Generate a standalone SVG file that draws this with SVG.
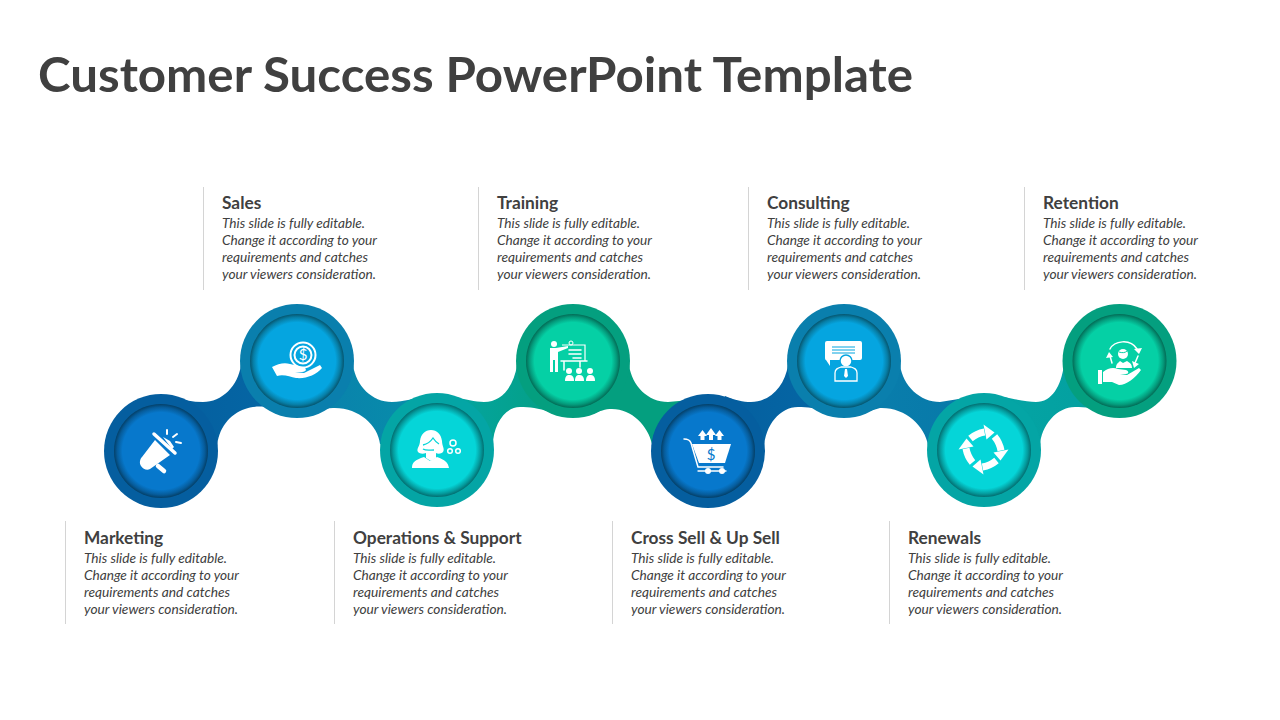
<svg xmlns="http://www.w3.org/2000/svg" width="1280" height="720" viewBox="0 0 1280 720">
<style>
text{font-family:"Lato","Noto Sans","Liberation Sans",sans-serif}
.title{font-size:48px;font-weight:700;fill:#404040}
.h{font-size:17.3px;font-weight:700;fill:#404040}
.b{font-size:13.3px;font-style:italic;fill:#404040}
.rule{stroke:#d4d4d4;stroke-width:1;fill:none}
.w{fill:#fff}
.o{fill:none;stroke:#fff;stroke-width:2}
.t{fill:none;stroke:#fff;stroke-linecap:round;stroke-linejoin:round}
.d{font-size:15px;font-weight:400;text-anchor:middle}
.blue{fill:#055e9f}.sky{fill:#0a7fad}.teal{fill:#04a5a5}.green{fill:#049f7f}
</style>
<defs>
<radialGradient id="gBlue"><stop offset="0" stop-color="#0778cc"/><stop offset=".82" stop-color="#0778cc"/><stop offset=".93" stop-color="#065c9b"/><stop offset="1" stop-color="#044068"/></radialGradient>
<radialGradient id="gSky"><stop offset="0" stop-color="#05a5e0"/><stop offset=".82" stop-color="#05a5e0"/><stop offset=".93" stop-color="#077ea6"/><stop offset="1" stop-color="#06566f"/></radialGradient>
<radialGradient id="gTeal"><stop offset="0" stop-color="#05d5d8"/><stop offset=".82" stop-color="#05d5d8"/><stop offset=".93" stop-color="#049c9e"/><stop offset="1" stop-color="#036e70"/></radialGradient>
<radialGradient id="gGreen"><stop offset="0" stop-color="#05d0a5"/><stop offset=".82" stop-color="#05d0a5"/><stop offset=".93" stop-color="#049a7b"/><stop offset="1" stop-color="#036c56"/></radialGradient>
<linearGradient id="c1" gradientUnits="userSpaceOnUse" x1="161" y1="0" x2="297" y2="0"><stop offset="0" stop-color="#055e9f"/><stop offset="1" stop-color="#0568a5"/></linearGradient>
<linearGradient id="c2" gradientUnits="userSpaceOnUse" x1="297" y1="0" x2="437" y2="0"><stop offset="0" stop-color="#0a7fad"/><stop offset="1" stop-color="#078fa9"/></linearGradient>
<linearGradient id="c3" gradientUnits="userSpaceOnUse" x1="437" y1="0" x2="573" y2="0"><stop offset="0" stop-color="#04a5a5"/><stop offset="1" stop-color="#049f7f"/></linearGradient>
<linearGradient id="c5" gradientUnits="userSpaceOnUse" x1="708" y1="0" x2="844" y2="0"><stop offset="0" stop-color="#055e9f"/><stop offset="1" stop-color="#0568a5"/></linearGradient>
<linearGradient id="c6" gradientUnits="userSpaceOnUse" x1="844" y1="0" x2="984" y2="0"><stop offset="0" stop-color="#0a7fad"/><stop offset="1" stop-color="#0778a8"/></linearGradient>
<linearGradient id="c7" gradientUnits="userSpaceOnUse" x1="984" y1="0" x2="1119" y2="0"><stop offset="0" stop-color="#04a5a5"/><stop offset="1" stop-color="#049f9f"/></linearGradient>
<g id="rarrow"><path d="M-13 -11Q-7 -16 1 -17.500" fill="none" stroke="#fff" stroke-width="7"/><path d="M0 -25L11 -17L3 -10Z" class="w"/></g>
</defs>
<text class="title" x="38" y="92" textLength="875" lengthAdjust="spacingAndGlyphs">Customer Success PowerPoint Template</text>
<g id="connectors">
<path fill="url(#c1)" d="M170 396C182 400 193 402 203 402C222 402 238 386 241 365L297 361L265 407C258 406 250 407 245 409C230 414 218 428 217 448L161 451Z"/>
<path fill="url(#c2)" d="M353 365C356 386 372 402 392 402C404 402 414 398 430 395L437 450L380 444C378 425 358 407 333 408C328 408 323 410 318 412L297 361Z"/>
<path fill="url(#c3)" d="M455 397C465 399 475 402 484 402C502 402 514 386 517 365L573 361L550 412C538 408 530 407 520 407C505 407 493 425 493 445L437 450Z"/>
<path fill="#049f7f" d="M629 365C632 386 648 402 668 402L690 400L708 451L652 444C648 426 632 409 612 409C605 409 600 411 592 414L573 361Z"/>
<path fill="url(#c5)" d="M725 396C735 400 743 402 751 402C770 402 785 386 788 365L844 361L812 408C807 407 803 407 798 407C780 407 765 425 764 448L708 451Z"/>
<path fill="url(#c6)" d="M900 365C903 386 920 402 940 402L965 398L984 450L928 445C925 426 905 407 880 408L860 414L844 361Z"/>
<path fill="url(#c7)" d="M1004 397C1018 400 1028 402 1036 402C1052 402 1061 386 1064 365L1119 361L1090 408C1085 407 1080 407 1075 407C1057 407 1041 425 1040 446L984 450Z"/>
</g>
<g id="marketing">
<circle class="blue" cx="161" cy="451" r="57"/><circle fill="url(#gBlue)" cx="161" cy="451" r="47"/>
<path class="w" d="M155 440L170 455L150 469C147 471 143 469 141 466C139 463 140 459 142 457Z"/>
<path class="t" stroke-width="3.500" d="M154 434L175 453"/>
<path class="w" d="M163 437L170 441L174 447L172 449Z"/>
<path class="t" stroke-width="4.500" d="M158 466L164 471"/>
<path class="t" stroke-width="2" d="M167 430V434M177 434L173 437M181 443L176 442"/>
<text class="h" x="84" y="544">Marketing</text>
<text class="b" x="84" y="563" textLength="143" lengthAdjust="spacingAndGlyphs">This slide is fully  editable.</text>
<text class="b" x="84" y="580" textLength="155" lengthAdjust="spacingAndGlyphs">Change it according to your</text>
<text class="b" x="84" y="597" textLength="146" lengthAdjust="spacingAndGlyphs">requirements and catches</text>
<text class="b" x="84" y="614" textLength="154" lengthAdjust="spacingAndGlyphs">your viewers consideration.</text>
<path class="rule" d="M65.500 521V624"/>
</g>
<g id="sales">
<circle class="sky" cx="297" cy="361" r="57"/><circle fill="url(#gSky)" cx="297" cy="361" r="47"/>
<circle class="o" cx="303" cy="355" r="12.500"/><circle class="o" cx="303" cy="355" r="8.500"/>
<text class="d w" x="303" y="360">$</text>
<path class="w" d="M272 367C278 364 284 362 290 364L303 367C307 368 307 372 302 372L295 372L304 373L320 365L322 368C316 375 306 379 296 378C290 377 284 374 277 376Z"/>
<text class="h" x="222" y="209">Sales</text>
<text class="b" x="222" y="228" textLength="143" lengthAdjust="spacingAndGlyphs">This slide is fully  editable.</text>
<text class="b" x="222" y="245" textLength="155" lengthAdjust="spacingAndGlyphs">Change it according to your</text>
<text class="b" x="222" y="262" textLength="146" lengthAdjust="spacingAndGlyphs">requirements and catches</text>
<text class="b" x="222" y="279" textLength="154" lengthAdjust="spacingAndGlyphs">your viewers consideration.</text>
<path class="rule" d="M203.500 187V290"/>
</g>
<g id="operations">
<circle class="teal" cx="437" cy="450" r="57"/><circle fill="url(#gTeal)" cx="437" cy="450" r="47"/>
<path class="w" d="M418 452C416 449 420 446 420 441C421 434 425 430 431 430C437 430 441 434 442 441C442 446 445 449 443 452C441 454 438 454 436 453L426 453C423 454 420 454 418 452Z"/>
<path class="w" d="M412 468C412 462 415 460 424 457L430 461L437 457C445 460 448 462 449 468Z"/>
<path fill="none" stroke="#05d5d8" stroke-width="1.300" d="M423 445C428 444 431 441 433 438C435 441 437 443 439 444M423 449C426 451 430 450 434 450"/>
<path class="w" d="M426 453H436V458L431 461L426 458Z"/>
<g fill="none" stroke="#fff" stroke-width="1.500"><circle cx="453" cy="443" r="3"/><circle cx="450" cy="451" r="2.300"/><circle cx="458" cy="451" r="2.300"/></g>
<text class="h" x="353" y="544">Operations &amp; Support</text>
<text class="b" x="353" y="563" textLength="143" lengthAdjust="spacingAndGlyphs">This slide is fully  editable.</text>
<text class="b" x="353" y="580" textLength="155" lengthAdjust="spacingAndGlyphs">Change it according to your</text>
<text class="b" x="353" y="597" textLength="146" lengthAdjust="spacingAndGlyphs">requirements and catches</text>
<text class="b" x="353" y="614" textLength="154" lengthAdjust="spacingAndGlyphs">your viewers consideration.</text>
<path class="rule" d="M334.500 521V624"/>
</g>
<g id="training">
<circle class="green" cx="573" cy="361" r="57"/><circle fill="url(#gGreen)" cx="573" cy="361" r="47"/>
<circle class="w" cx="554" cy="344" r="3"/>
<path class="w" d="M550 348H556L568 346V348L558 352V372H555V360H553V372H550Z"/>
<path fill="none" stroke="#fff" stroke-width="1.200" d="M562 345H585V361M566 345L571 345"/><circle cx="571" cy="343" r="2" fill="none" stroke="#fff"/>
<path class="t" stroke-width="1.500" d="M569 350H581M569 354H581M573 358H581M561 361H587M564 361V370M580 361V367"/>
<g class="w"><circle cx="569" cy="371" r="3"/><circle cx="579" cy="371" r="3"/><circle cx="590" cy="371" r="3"/>
<path d="M565 381C565 376 567 375 569 375C572 375 574 376 574 381Z"/><path d="M575 381C575 376 577 375 579 375C582 375 584 376 584 381Z"/><path d="M586 381C586 376 588 375 590 375C593 375 595 376 595 381Z"/></g>
<text class="h" x="497" y="209">Training</text>
<text class="b" x="497" y="228" textLength="143" lengthAdjust="spacingAndGlyphs">This slide is fully  editable.</text>
<text class="b" x="497" y="245" textLength="155" lengthAdjust="spacingAndGlyphs">Change it according to your</text>
<text class="b" x="497" y="262" textLength="146" lengthAdjust="spacingAndGlyphs">requirements and catches</text>
<text class="b" x="497" y="279" textLength="154" lengthAdjust="spacingAndGlyphs">your viewers consideration.</text>
<path class="rule" d="M478.500 187V290"/>
</g>
<g id="crosssell">
<circle class="blue" cx="708" cy="451" r="57"/><circle fill="url(#gBlue)" cx="708" cy="451" r="47"/>
<g class="w"><path d="M702.500 430L707 436H704.500V440H700.500V436H698Z"/><path d="M711 428L716 435H713V440H709V435H706Z"/><path d="M719.500 430L724 436H721.500V440H717.500V436H715Z"/></g>
<path class="w" d="M692 444H731L725 463H699Z"/>
<path class="t" stroke-width="1.500" d="M684 439C688 439 690 440 691 443L698 467H723"/>
<g class="w"><circle cx="708" cy="471" r="3"/><circle cx="722" cy="471" r="3"/></g>
<path class="t" stroke-width="1.300" d="M698 471H726"/>
<text class="d" fill="#0778cc" x="711" y="460">$</text>
<text class="h" x="631" y="544">Cross Sell &amp; Up Sell</text>
<text class="b" x="631" y="563" textLength="143" lengthAdjust="spacingAndGlyphs">This slide is fully  editable.</text>
<text class="b" x="631" y="580" textLength="155" lengthAdjust="spacingAndGlyphs">Change it according to your</text>
<text class="b" x="631" y="597" textLength="146" lengthAdjust="spacingAndGlyphs">requirements and catches</text>
<text class="b" x="631" y="614" textLength="154" lengthAdjust="spacingAndGlyphs">your viewers consideration.</text>
<path class="rule" d="M612.500 521V624"/>
</g>
<g id="consulting">
<circle class="sky" cx="844" cy="361" r="57"/><circle fill="url(#gSky)" cx="844" cy="361" r="47"/>
<path class="w" d="M827 341H860Q862 341 862 343V358Q862 360 860 360H830V366L826 360Q825 360 825 358V343Q825 341 827 341Z"/>
<path fill="none" stroke="#05a5e0" stroke-width="1.200" d="M832 347H855M832 350H855M832 353H855"/>
<circle cx="846" cy="361" r="6" class="w" stroke="#05a5e0" stroke-width="1.500"/>
<path fill="none" stroke="#fff" stroke-width="1.300" d="M835 381V373C835 369 838 368 841 367H851C854 368 857 369 857 373V381Z"/>
<path class="w" d="M845 369H847L848 376L846 378L844 376Z"/>
<text class="h" x="767" y="209">Consulting</text>
<text class="b" x="767" y="228" textLength="143" lengthAdjust="spacingAndGlyphs">This slide is fully  editable.</text>
<text class="b" x="767" y="245" textLength="155" lengthAdjust="spacingAndGlyphs">Change it according to your</text>
<text class="b" x="767" y="262" textLength="146" lengthAdjust="spacingAndGlyphs">requirements and catches</text>
<text class="b" x="767" y="279" textLength="154" lengthAdjust="spacingAndGlyphs">your viewers consideration.</text>
<path class="rule" d="M748.500 187V290"/>
</g>
<g id="renewals">
<circle class="teal" cx="984" cy="450" r="57"/><circle fill="url(#gTeal)" cx="984" cy="450" r="47"/>
<g transform="translate(983.500 449.500)"><use href="#rarrow"/><use href="#rarrow" transform="rotate(90)"/><use href="#rarrow" transform="rotate(180)"/><use href="#rarrow" transform="rotate(270)"/></g>
<text class="h" x="908" y="544">Renewals</text>
<text class="b" x="908" y="563" textLength="143" lengthAdjust="spacingAndGlyphs">This slide is fully  editable.</text>
<text class="b" x="908" y="580" textLength="155" lengthAdjust="spacingAndGlyphs">Change it according to your</text>
<text class="b" x="908" y="597" textLength="146" lengthAdjust="spacingAndGlyphs">requirements and catches</text>
<text class="b" x="908" y="614" textLength="154" lengthAdjust="spacingAndGlyphs">your viewers consideration.</text>
<path class="rule" d="M889.500 521V624"/>
</g>
<g id="retention">
<circle class="green" cx="1119.500" cy="361" r="57"/><circle fill="url(#gGreen)" cx="1119.500" cy="361" r="47"/>
<circle cx="1123" cy="354" r="5" class="w"/>
<path fill="none" stroke="#05d0a5" d="M1119 352C1122 353 1125 353 1127 351"/>
<path class="w" d="M1116 368C1116 364 1118 363 1120 361L1123 363L1127 361C1130 363 1132 364 1132 368Z"/>
<path class="w" d="M1098 370H1102V384H1098ZM1103 372C1108 368 1113 367 1118 369L1126 370C1129 371 1129 374 1126 374H1120L1127 375L1139 368L1141 370C1135 378 1127 385 1119 385L1112 382L1103 382Z"/>
<path class="t" stroke-width="1.500" d="M1110 349C1114 341 1130 338 1137 349M1112 363L1110 356M1135 363L1138 356"/>
<path class="w" d="M1134 349L1142 348L1139 354ZM1106 358L1113 357L1109 352ZM1132 361L1139 364L1134 368Z"/>
<text class="h" x="1043" y="209">Retention</text>
<text class="b" x="1043" y="228" textLength="143" lengthAdjust="spacingAndGlyphs">This slide is fully  editable.</text>
<text class="b" x="1043" y="245" textLength="155" lengthAdjust="spacingAndGlyphs">Change it according to your</text>
<text class="b" x="1043" y="262" textLength="146" lengthAdjust="spacingAndGlyphs">requirements and catches</text>
<text class="b" x="1043" y="279" textLength="154" lengthAdjust="spacingAndGlyphs">your viewers consideration.</text>
<path class="rule" d="M1024.500 187V290"/>
</g>
</svg>
